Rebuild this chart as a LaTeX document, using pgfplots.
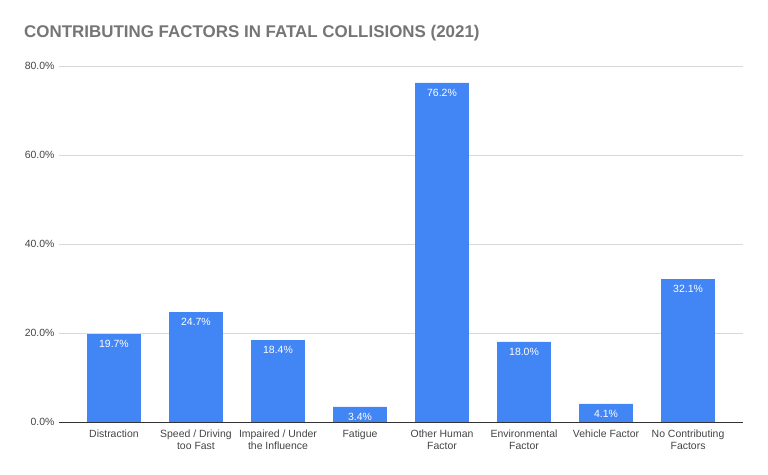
\documentclass[border=0pt]{standalone}
\usepackage{pgfplots}
\pgfplotsset{compat=1.18}
\usepackage{fontspec}
\setmainfont{Liberation Sans}

\definecolor{barblue}{HTML}{4285F4}
\definecolor{titlegray}{HTML}{757575}
\definecolor{ticktext}{HTML}{444444}
\definecolor{gridgray}{HTML}{D9D9D9}
\definecolor{basegray}{HTML}{333333}

\begin{document}
\begin{tikzpicture}
\begin{axis}[
  at={(0,0)}, anchor=south west,
  scale only axis,
  width=684bp, height=356bp,
  xmin=-0.67, xmax=7.67,
  ymin=0, ymax=80,
  ytick={0,20,40,60,80},
  xtick={0,1,2,3,4,5,6,7},
  xticklabels={Distraction, {Speed / Driving\\too Fast}, {Impaired / Under\\the Influence}, Fatigue, {Other Human\\Factor}, {Environmental\\Factor}, Vehicle Factor, {No Contributing\\Factors}},
  /pgf/number format/assume math mode=true,
  yticklabel={\pgfmathprintnumber[fixed,fixed zerofill,precision=1]{\tick}\%},
  major tick length=0pt,
  axis x line*=bottom,
  axis y line*=left,
  y axis line style={draw=none},
  x axis line style={draw=basegray, line width=0.8bp},
  ymajorgrids,
  grid style={draw=gridgray, line width=0.6bp},
  ticklabel style={font=\fontsize{10.5}{12}\selectfont, text=ticktext},
  xticklabel style={align=center, yshift=-4.5bp},
  yticklabel style={xshift=-1bp},
  ybar, bar width=53bp,
  point meta=y,
  nodes near coords={\pgfmathprintnumber[fixed,fixed zerofill,precision=1]{\pgfplotspointmeta}\%},
  nodes near coords style={anchor=north, inner sep=0pt, yshift=-6bp, text=white, font=\fontsize{10.5}{12}\selectfont},
]
\addplot[fill=barblue, draw=barblue, line width=0.3bp] coordinates {
  (0,19.7) (1,24.7) (2,18.4) (3,3.4) (4,76.2) (5,18.0) (6,4.1) (7,32.1)
};
\end{axis}
\node[anchor=west, inner sep=0pt, text=titlegray, font=\fontsize{17}{20}\selectfont\bfseries] at (-35bp,389bp) {CONTRIBUTING FACTORS IN FATAL COLLISIONS (2021)};
\pgfresetboundingbox
\path (-59bp,-53bp) rectangle (709bp,422bp);
\end{tikzpicture}
\end{document}
